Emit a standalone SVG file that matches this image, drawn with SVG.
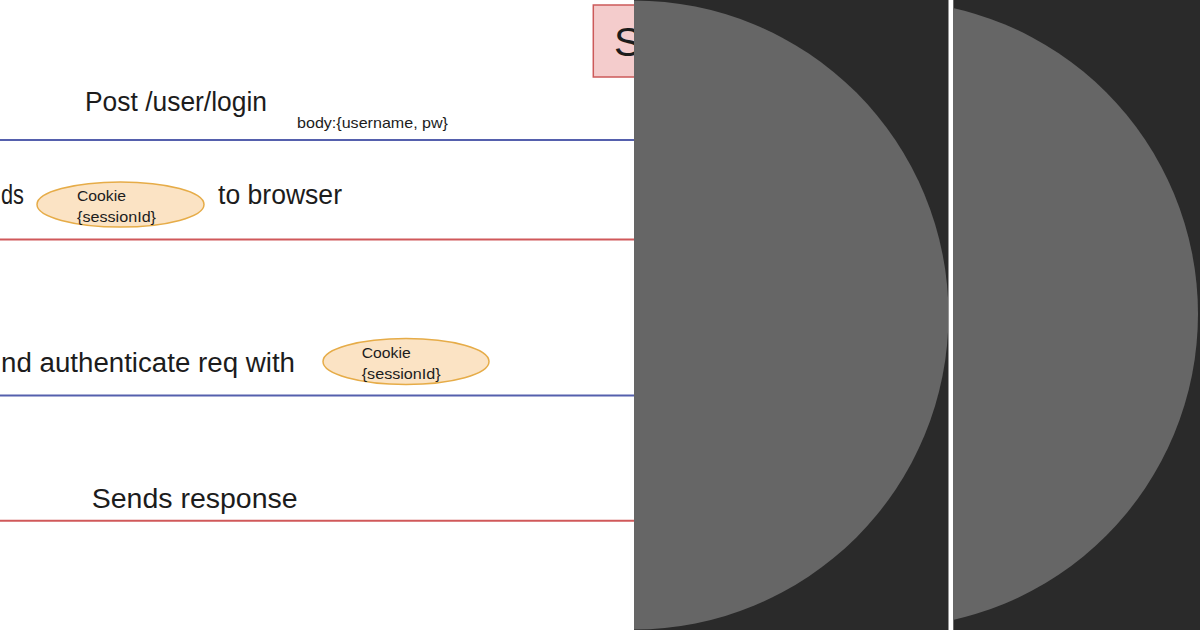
<svg xmlns="http://www.w3.org/2000/svg" width="1200" height="630" viewBox="0 0 1200 630">
  <defs>
    <style>
      .big { font-family: "Liberation Sans", Arial, sans-serif; font-size: 27px; fill: #1c1c1c; }
      .small { font-family: "Liberation Sans", Arial, sans-serif; font-size: 15px; fill: #1c1c1c; }
      .blue { stroke: #5560ad; stroke-width: 2; }
      .red { stroke: #d0585a; stroke-width: 2; }
      .cookie { fill: #fbe3c4; stroke: #e6ac48; stroke-width: 1.5; }
    </style>
    <clipPath id="p1"><rect x="634" y="0" width="314.7" height="630"/></clipPath>
    <clipPath id="p2"><rect x="953.3" y="0" width="246.7" height="630"/></clipPath>
  </defs>
  <rect x="0" y="0" width="1200" height="630" fill="#ffffff"/>

  <g id="server-box">
    <rect x="593.3" y="5" width="80" height="72" fill="#f4cccc" stroke="#cc5a5a" stroke-width="1.5"/>
    <text x="614" y="56" font-family="Liberation Sans, Arial, sans-serif" font-size="41" fill="#1c1c1c">S</text>
  </g>

  <g id="connectors">
    <line class="blue" x1="0" y1="140" x2="634" y2="140"/>
    <line class="red" x1="0" y1="239.5" x2="634" y2="239.5"/>
    <line class="blue" x1="0" y1="395.5" x2="634" y2="395.5"/>
    <line class="red" x1="0" y1="520.8" x2="634" y2="520.8"/>
  </g>

  <g id="label-login">
    <text class="big" x="85" y="110.5" textLength="182" lengthAdjust="spacingAndGlyphs">Post /user/login</text>
    <text class="small" x="297" y="127.7" textLength="151" lengthAdjust="spacingAndGlyphs">body:{username, pw}</text>
  </g>

  <g id="label-sends-cookie">
    <text class="big" x="1" y="204.3" textLength="23" lengthAdjust="spacingAndGlyphs">ds</text>
    <g id="cookie-1">
      <ellipse class="cookie" cx="120.5" cy="204.5" rx="83.5" ry="22.5"/>
      <text class="small" x="77" y="200.7" textLength="49" lengthAdjust="spacingAndGlyphs">Cookie</text>
      <text class="small" x="77" y="221.5" textLength="79" lengthAdjust="spacingAndGlyphs">{sessionId}</text>
    </g>
    <text class="big" x="218" y="204.3" textLength="124" lengthAdjust="spacingAndGlyphs">to browser</text>
  </g>

  <g id="label-authenticate">
    <text class="big" x="1" y="371.5" textLength="294" lengthAdjust="spacingAndGlyphs">nd authenticate req with</text>
    <g id="cookie-2">
      <ellipse class="cookie" cx="406" cy="361.5" rx="83" ry="23"/>
      <text class="small" x="361.7" y="357.5" textLength="49" lengthAdjust="spacingAndGlyphs">Cookie</text>
      <text class="small" x="361.7" y="378.5" textLength="79" lengthAdjust="spacingAndGlyphs">{sessionId}</text>
    </g>
  </g>

  <g id="label-response">
    <text class="big" x="91.7" y="507.7" textLength="206" lengthAdjust="spacingAndGlyphs">Sends response</text>
  </g>

  <g id="panel-1">
    <rect x="634" y="0" width="314.7" height="630" fill="#2a2a2a"/>
    <circle cx="634" cy="315" r="314.5" fill="#666666" clip-path="url(#p1)"/>
  </g>
  <rect x="948.7" y="0" width="4.6" height="630" fill="#ffffff"/>
  <g id="panel-2">
    <rect x="953.3" y="0" width="246.7" height="630" fill="#2a2a2a"/>
    <circle cx="884.4" cy="314" r="313.6" fill="#666666" clip-path="url(#p2)"/>
  </g>
</svg>
